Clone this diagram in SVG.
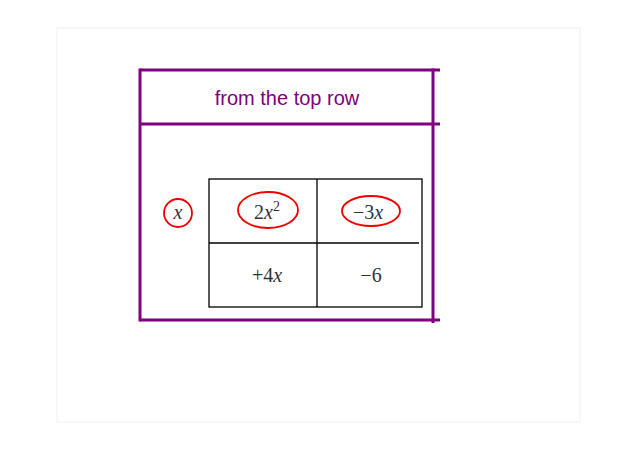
<svg xmlns="http://www.w3.org/2000/svg" width="638" height="451" viewBox="0 0 638 451">
<style>
.p{stroke:#800080;stroke-width:3;fill:none}
.k{stroke:#000;stroke-width:1.3;fill:none}
.r{stroke:#e00;stroke-width:1.8;fill:none}
.m{font-family:"Liberation Serif",serif;font-size:20px;fill:#333;text-anchor:middle}
.t{font-family:"Liberation Sans",sans-serif;font-size:20px;fill:#800080;text-anchor:middle}
</style>
<rect width="638" height="451" fill="#fff"/>
<rect x="57" y="28" width="523" height="394" fill="none" stroke="#f0f0f0"/>
<g id="frame">
<line class="p" x1="140" y1="70" x2="440" y2="70"/>
<line class="p" x1="140" y1="124" x2="440" y2="124"/>
<line class="p" x1="140" y1="320" x2="440" y2="320"/>
<line class="p" x1="140" y1="68.5" x2="140" y2="321.5"/>
<line class="p" x1="433" y1="68.5" x2="433" y2="323"/>
<text class="t" x="287" y="105">from the top row</text>
</g>
<g id="table">
<rect class="k" x="209" y="179" width="213" height="128"/>
<line class="k" x1="317" y1="179" x2="317" y2="307"/>
<line class="k" x1="209" y1="243" x2="419" y2="243"/>
<text class="m" x="267" y="219">2<tspan font-style="italic">x</tspan><tspan dy="-8" font-size="14">2</tspan></text>
<text class="m" x="368" y="219">−3<tspan font-style="italic">x</tspan></text>
<text class="m" x="267" y="282">+4<tspan font-style="italic">x</tspan></text>
<text class="m" x="371" y="282">−6</text>
</g>
<g id="marks">
<text class="m" x="178" y="219" font-style="italic">x</text>
<ellipse class="r" cx="178" cy="213" rx="14" ry="14"/>
<ellipse class="r" cx="268" cy="210" rx="30" ry="18"/>
<ellipse class="r" cx="371" cy="211" rx="29" ry="15"/>
</g>
</svg>
